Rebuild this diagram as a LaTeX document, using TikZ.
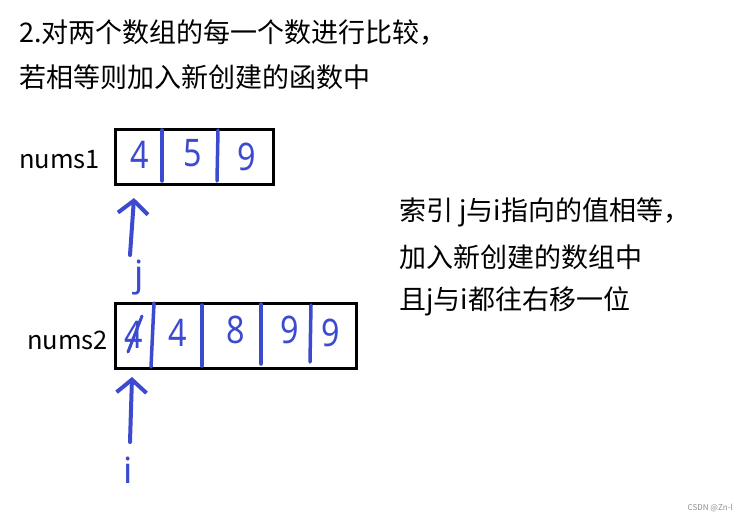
\documentclass[tikz,border=0pt]{standalone}
\usepackage{fontspec}
\setmainfont{Noto Sans CJK SC}
\newfontfamily\handfont{Noto Sans}
\usetikzlibrary{arrows.meta}
\definecolor{ink}{HTML}{3C4ACF}
\begin{document}
\begin{tikzpicture}[x=1pt,y=-1pt,
  txt/.style={anchor=west,inner sep=0pt,font=\fontsize{27}{27}\selectfont},
  lbl/.style={anchor=west,inner sep=0pt,font=\fontsize{25.5}{25.5}\selectfont},
  box/.style={draw=black,line width=3pt,inner sep=0pt},
  digit/.style={inner sep=0pt,text=ink,xscale=0.85,font=\handfont\bfseries\fontsize{38}{38}\selectfont},
  hand/.style={draw=ink,line width=4pt,line cap=round},
  harrow/.style={hand,-{Straight Barb[length=13pt,width=30pt,line width=4pt]}},
  idx/.style={inner sep=0pt,text=ink,font=\handfont\bfseries\fontsize{36}{36}\selectfont},
  wm/.style={anchor=east,inner sep=0pt,text=black!45,font=\fontsize{8}{8}\selectfont}]
\useasboundingbox (0,0) rectangle (745,523);
% title
\node[txt] (t1) at (19,33) {2.对两个数组的每一个数进行比较，};
\node[txt] (t2) at (19,77) {若相等则加入新创建的函数中};
% right explanation
\node[txt] (r1) at (399,212) {索引 j与i指向的值相等，};
\node[txt] (r2) at (399,257) {加入新创建的数组中};
\node[txt] (r3) at (399,301) {且j与i都往右移一位};
% nums1
\node[lbl] (l1) at (19,160) {nums1};
\node[box,minimum width=158pt,minimum height=55pt,anchor=north west] (b1) at (114,128) {};
\draw[hand,line width=3.5pt] (162,130) -- (162,181);
\draw[hand,line width=3.5pt] (218,130) -- (217,181);
\node[digit] (a0) at (140,155) {4};
\node[digit] (a1) at (193,153) {5};
\node[digit] (a2) at (247,157) {9};
% nums2
\node[lbl] (l2) at (27,340) {nums2};
\node[box,minimum width=241pt,minimum height=65pt,anchor=north west] (b2) at (114,302) {};
\draw[hand,line width=3.5pt] (154,303) -- (151,367);
\draw[hand,line width=3.5pt] (202,305) -- (202,366);
\draw[hand,line width=3.5pt] (261,304) -- (261,364);
\draw[hand,line width=3.5pt] (311,305) -- (310,362);
\node[digit] (c0) at (134,335) {4};
\draw[hand,line width=3pt] (128,352) -- (142,316);
\node[digit] (c1) at (178,333) {4};
\node[digit] (c2) at (236,330) {8};
\node[digit] (c3) at (290,330) {9};
\node[digit] (c4) at (331,333) {9};
% index pointers
\node[idx] (j) at (139,278) {j};
\node[idx] (i) at (128,470) {i};
\coordinate (jtop) at (134,198);
\coordinate (jbot) at (130,255);
\coordinate (itop) at (132,377);
\coordinate (ibot) at (130,442);
\draw[harrow] (jbot) -- (jtop);
\draw[harrow] (ibot) -- (itop);
% watermark
\node[wm] (w) at (733,508) {CSDN @Zn-l};
\end{tikzpicture}
\end{document}
